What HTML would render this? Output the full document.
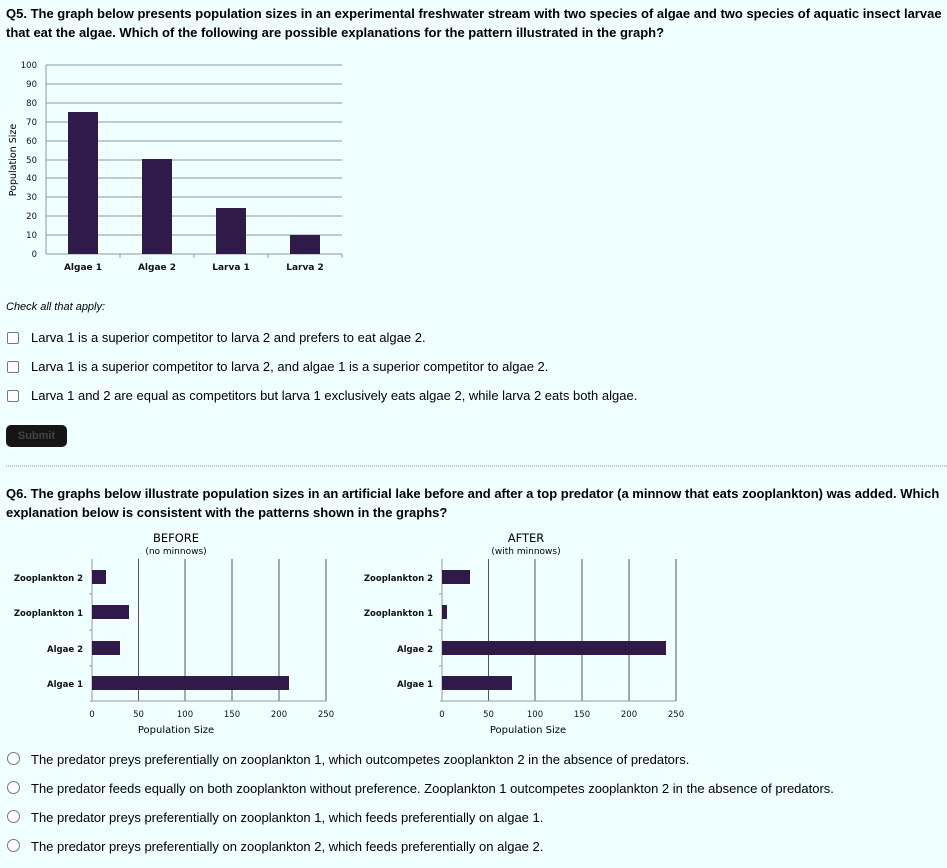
<!DOCTYPE html>
<html><head><meta charset="utf-8"><style>
body{margin:0;width:947px;height:868px;background:#f0ffff;font-family:"Liberation Sans",Arial,sans-serif;position:relative;overflow:hidden;color:#000}
.t{position:absolute;font-size:13px;white-space:nowrap}
.b{font-weight:bold}
.cb{position:absolute;width:10px;height:10px;border:1px solid #777;background:#fff;border-radius:2px}
.rd{position:absolute;width:11px;height:11px;border:1px solid #777;background:#fff;border-radius:50%}
svg text{font-family:"DejaVu Sans",sans-serif}
</style></head><body>
<div class="t b" style="left:6px;top:6px">Q5. The graph below presents population sizes in an experimental freshwater stream with two species of algae and two species of aquatic insect larvae</div>
<div class="t b" style="left:6px;top:25px">that eat the algae. Which of the following are possible explanations for the pattern illustrated in the graph?</div>

<svg width="947" height="868" style="position:absolute;left:0;top:0">
<g stroke="#8a9a9a" stroke-width="1">
<line x1="46" y1="65" x2="342" y2="65"/><line x1="46" y1="84" x2="342" y2="84"/><line x1="46" y1="103" x2="342" y2="103"/><line x1="46" y1="122" x2="342" y2="122"/><line x1="46" y1="141" x2="342" y2="141"/><line x1="46" y1="160" x2="342" y2="160"/><line x1="46" y1="178" x2="342" y2="178"/><line x1="46" y1="197" x2="342" y2="197"/><line x1="46" y1="216" x2="342" y2="216"/><line x1="46" y1="235" x2="342" y2="235"/><line x1="46" y1="254" x2="342" y2="254"/>
<line x1="46" y1="65" x2="46" y2="254"/>
<line x1="120" y1="254" x2="120" y2="258"/><line x1="194" y1="254" x2="194" y2="258"/><line x1="268" y1="254" x2="268" y2="258"/><line x1="342" y1="254" x2="342" y2="258"/>
</g>
<g fill="#2f1a4a">
<rect x="68" y="112" width="30" height="142"/><rect x="142" y="159" width="30" height="95"/><rect x="216" y="208" width="30" height="46"/><rect x="290" y="235" width="30" height="19"/>
</g>
<g font-size="8.5" text-anchor="end" fill="#111">
<text x="37" y="68">100</text><text x="37" y="87">90</text><text x="37" y="106">80</text><text x="37" y="125">70</text><text x="37" y="144">60</text><text x="37" y="163">50</text><text x="37" y="181">40</text><text x="37" y="200">30</text><text x="37" y="219">20</text><text x="37" y="238">10</text><text x="37" y="257">0</text>
</g>
<g font-size="9" font-weight="bold" text-anchor="middle" fill="#111">
<text x="83" y="270">Algae 1</text><text x="157" y="270">Algae 2</text><text x="231" y="270">Larva 1</text><text x="305" y="270">Larva 2</text>
</g>
<text transform="translate(16,160) rotate(-90)" font-size="9.5" text-anchor="middle">Population Size</text>

<line x1="6" y1="466" x2="947" y2="466" stroke="#888" stroke-dasharray="1,1"/>

<g stroke="#555"><line x1="138.5" y1="559" x2="138.5" y2="701"/><line x1="185" y1="559" x2="185" y2="701"/><line x1="232" y1="559" x2="232" y2="701"/><line x1="279" y1="559" x2="279" y2="701"/><line x1="326" y1="559" x2="326" y2="701"/></g>
<g stroke="#999"><line x1="92" y1="559" x2="92" y2="701"/><line x1="90" y1="701" x2="326" y2="701"/><line x1="89" y1="594" x2="92" y2="594"/><line x1="89" y1="630" x2="92" y2="630"/><line x1="89" y1="666" x2="92" y2="666"/></g>
<g fill="#2f1a4a"><rect x="92" y="570" width="14" height="14"/><rect x="92" y="605" width="37" height="14"/><rect x="92" y="641" width="28" height="14"/><rect x="92" y="676" width="197" height="14"/></g>
<g font-size="8.5" font-weight="bold" text-anchor="end" fill="#111"><text x="83" y="581">Zooplankton 2</text><text x="83" y="616">Zooplankton 1</text><text x="83" y="652">Algae 2</text><text x="83" y="687">Algae 1</text></g>
<g font-size="8.5" text-anchor="middle" fill="#111"><text x="92" y="717">0</text><text x="138.5" y="717">50</text><text x="185" y="717">100</text><text x="232" y="717">150</text><text x="279" y="717">200</text><text x="326" y="717">250</text></g>
<text x="176" y="733" font-size="10" text-anchor="middle">Population Size</text>
<text x="176" y="542" font-size="11.5" text-anchor="middle">BEFORE</text>
<text x="176" y="554" font-size="9" text-anchor="middle">(no minnows)</text>

<g stroke="#555"><line x1="488.5" y1="559" x2="488.5" y2="701"/><line x1="535" y1="559" x2="535" y2="701"/><line x1="582" y1="559" x2="582" y2="701"/><line x1="629" y1="559" x2="629" y2="701"/><line x1="676" y1="559" x2="676" y2="701"/></g>
<g stroke="#999"><line x1="442" y1="559" x2="442" y2="701"/><line x1="440" y1="701" x2="676" y2="701"/><line x1="439" y1="594" x2="442" y2="594"/><line x1="439" y1="630" x2="442" y2="630"/><line x1="439" y1="666" x2="442" y2="666"/></g>
<g fill="#2f1a4a"><rect x="442" y="570" width="28" height="14"/><rect x="442" y="605" width="5" height="14"/><rect x="442" y="641" width="224" height="14"/><rect x="442" y="676" width="70" height="14"/></g>
<g font-size="8.5" font-weight="bold" text-anchor="end" fill="#111"><text x="433" y="581">Zooplankton 2</text><text x="433" y="616">Zooplankton 1</text><text x="433" y="652">Algae 2</text><text x="433" y="687">Algae 1</text></g>
<g font-size="8.5" text-anchor="middle" fill="#111"><text x="442" y="717">0</text><text x="488.5" y="717">50</text><text x="535" y="717">100</text><text x="582" y="717">150</text><text x="629" y="717">200</text><text x="676" y="717">250</text></g>
<text x="528" y="733" font-size="10" text-anchor="middle">Population Size</text>
<text x="526" y="542" font-size="11.5" text-anchor="middle">AFTER</text>
<text x="526" y="554" font-size="9" text-anchor="middle">(with minnows)</text>
</svg>

<div class="t" style="left:6px;top:301px;font-size:11px;font-style:italic">Check all that apply:</div>
<div class="cb" style="left:7px;top:332px"></div><div class="t" style="left:31px;top:330px">Larva 1 is a superior competitor to larva 2 and prefers to eat algae 2.</div>
<div class="cb" style="left:7px;top:361px"></div><div class="t" style="left:31px;top:359px">Larva 1 is a superior competitor to larva 2, and algae 1 is a superior competitor to algae 2.</div>
<div class="cb" style="left:7px;top:390px"></div><div class="t" style="left:31px;top:388px">Larva 1 and 2 are equal as competitors but larva 1 exclusively eats algae 2, while larva 2 eats both algae.</div>
<div style="position:absolute;left:6px;top:425px;width:61px;height:22px;background:#151515;border-radius:5px;color:#444;font-size:11px;font-weight:bold;line-height:22px;text-align:center">Submit</div>

<div class="t b" style="left:6px;top:486px">Q6. The graphs below illustrate population sizes in an artificial lake before and after a top predator (a minnow that eats zooplankton) was added. Which</div>
<div class="t b" style="left:6px;top:505px">explanation below is consistent with the patterns shown in the graphs?</div>

<div class="rd" style="left:7px;top:752px"></div><div class="t" style="left:31px;top:752px">The predator preys preferentially on zooplankton 1, which outcompetes zooplankton 2 in the absence of predators.</div>
<div class="rd" style="left:7px;top:781px"></div><div class="t" style="left:31px;top:781px">The predator feeds equally on both zooplankton without preference. Zooplankton 1 outcompetes zooplankton 2 in the absence of predators.</div>
<div class="rd" style="left:7px;top:810px"></div><div class="t" style="left:31px;top:810px">The predator preys preferentially on zooplankton 1, which feeds preferentially on algae 1.</div>
<div class="rd" style="left:7px;top:839px"></div><div class="t" style="left:31px;top:839px">The predator preys preferentially on zooplankton 2, which feeds preferentially on algae 2.</div>
</body></html>
